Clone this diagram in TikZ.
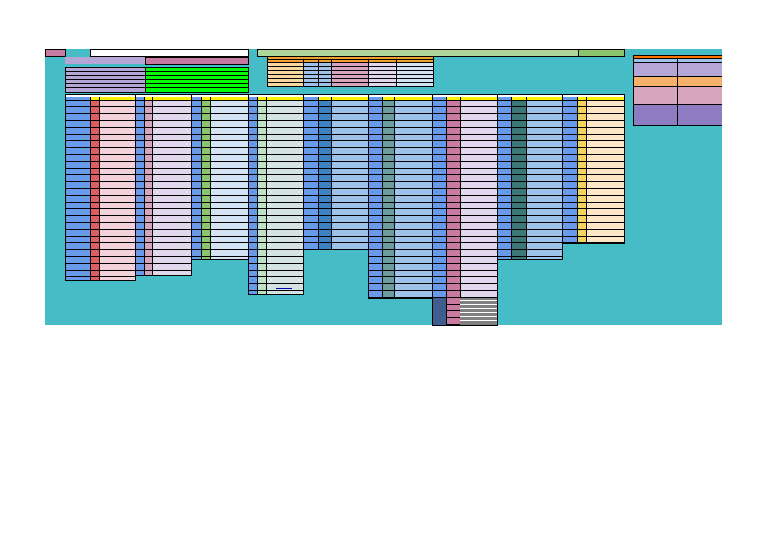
\documentclass[tikz,border=0pt]{standalone}
\begin{document}
\begin{tikzpicture}[x=1pt,y=-1pt,line width=0.7pt]
\definecolor{teal}{HTML}{45BCC6}
\definecolor{cb}{HTML}{6A9BEA}
\definecolor{cr}{HTML}{DD5E5E}
\definecolor{cpk}{HTML}{F2D3DC}
\definecolor{cmv}{HTML}{C87AA0}
\definecolor{clav}{HTML}{E2D8EE}
\definecolor{cg}{HTML}{8CC46E}
\definecolor{clb}{HTML}{D3E3F4}
\definecolor{clg}{HTML}{BDE2C4}
\definecolor{cgr}{HTML}{D5E3E3}
\definecolor{csb}{HTML}{3D82C2}
\definecolor{cmb}{HTML}{9FC3E8}
\definecolor{ctg}{HTML}{6B9E9E}
\definecolor{cdt}{HTML}{3D7878}
\definecolor{cy}{HTML}{F6D35C}
\definecolor{cpe}{HTML}{FDE6C8}
\definecolor{corg}{HTML}{F0A030}
\definecolor{cpale}{HTML}{F8D8A0}
\definecolor{cl2}{HTML}{B4A7D6}
\definecolor{cpu}{HTML}{8E7CC3}
\definecolor{cpk2}{HTML}{D5A6BD}
\definecolor{co2}{HTML}{F6B26B}
\useasboundingbox (0,0) rectangle (768,543);
\fill[white] (0,0) rectangle (768,543);
\fill[teal] (45,49) rectangle (722,325);
% top left
\node[draw,fill=cmv,minimum width=20pt,minimum height=7pt,inner sep=0pt,anchor=north west] (t1) at (45,49) {};
\node[draw,fill=white,minimum width=158pt,minimum height=7pt,inner sep=0pt,anchor=north west] (t2) at (90,49) {};
\node[fill=cl2,minimum width=80pt,minimum height=7pt,inner sep=0pt,anchor=north west] (t3) at (65,57) {};
\node[draw,fill=cmv,minimum width=103pt,minimum height=7pt,inner sep=0pt,anchor=north west] (t4) at (145,57) {};
\node[draw,fill=cl2,minimum width=80pt,minimum height=25pt,inner sep=0pt,anchor=north west] (t5) at (65,67) {};
\node[draw,fill=green,minimum width=103pt,minimum height=25pt,inner sep=0pt,anchor=north west] (t6) at (145,67) {};
\foreach \y in {71,75,79,83,87} \draw (65,\y)--(248,\y);
% top green bar
\node[draw,fill=cg!70!white,minimum width=321pt,minimum height=7pt,inner sep=0pt,anchor=north west] (g1) at (257,49) {};
\node[draw,fill=cg,minimum width=46pt,minimum height=7pt,inner sep=0pt,anchor=north west] (g2) at (578,49) {};
% orange table
\fill[corg] (267,56) rectangle (433,62);
\fill[cpale] (267,62) rectangle (303,86);
\fill[cmb] (303,62) rectangle (331,86);
\fill[cpk2] (331,62) rectangle (368,86);
\fill[clav] (368,62) rectangle (396,86);
\fill[clb] (396,62) rectangle (433,86);
\foreach \y in {59,62,66,70,74,78,82} \draw (267,\y)--(433,\y);
\foreach \x in {303,318,331,368,396} \draw (\x,59)--(\x,86);
\draw[thick] (267,56) rectangle (433,86);
% right table
\fill[orange!90!red] (633,55) rectangle (722,58);
\fill[cmb] (633,58) rectangle (722,62);
\fill[cl2] (633,62) rectangle (722,76);
\fill[co2] (633,76) rectangle (722,86);
\fill[cpk2] (633,86) rectangle (722,104);
\fill[cpu] (633,104) rectangle (722,125);
\foreach \y in {58,62,76,86,104} \draw (633,\y)--(722,\y);
\draw (677,58)--(677,125);
\draw[thick] (722,55)--(633,55)--(633,125)--(722,125);
% main groups
\foreach \a/\b/\c/\d/\bot/\ca/\cbb/\cc in {
 65/90/99/135/280/cb/cr/cpk,
 135/144/152/191/275/cb/cpk2/clav,
 191/201/210/248/259/cb/cg/clb,
 248/257/266/303/294/cb/clg/cgr,
 303/318/331/368/249/cb/csb/cmb,
 368/382/394/432/298/cb/ctg/cmb,
 432/446/460/497/325/cb/cmv/clav,
 497/511/526/562/259/cb/cdt/cmb,
 562/577/586/624/243/cb/cy/cpe}{
 \fill[white] (\a,94) rectangle (\d,97);
 \fill[cb] (\a,97) rectangle (\b,100);
 \fill[yellow] (\b,97) rectangle (\d,100);
 \fill[\ca] (\a,100) rectangle (\b,\bot);
 \fill[\cbb] (\b,100) rectangle (\c,\bot);
 \fill[\cc] (\c,100) rectangle (\d,\bot);
 \pgfmathtruncatemacro\n{(\bot-100)/6.8}
 \foreach \i in {0,...,\n} \draw (\a,100+\i*6.8)--(\d,100+\i*6.8);
 \draw (\b,97)--(\b,\bot) (\c,97)--(\c,\bot);
 \draw[thick] (\a,94) rectangle (\d,\bot);
}
\fill[gray] (460,298) rectangle (497,325);
\fill[cb!60!black] (432,298) rectangle (446,325);
\foreach \y in {300,304,308,312,316,320} \draw[white,line width=0.8pt] (460,\y)--(497,\y);
\draw[thick] (432,94) rectangle (497,325);
\draw[blue!70!black,line width=1pt] (276,288)--(292,288);
\end{tikzpicture}
\end{document}
